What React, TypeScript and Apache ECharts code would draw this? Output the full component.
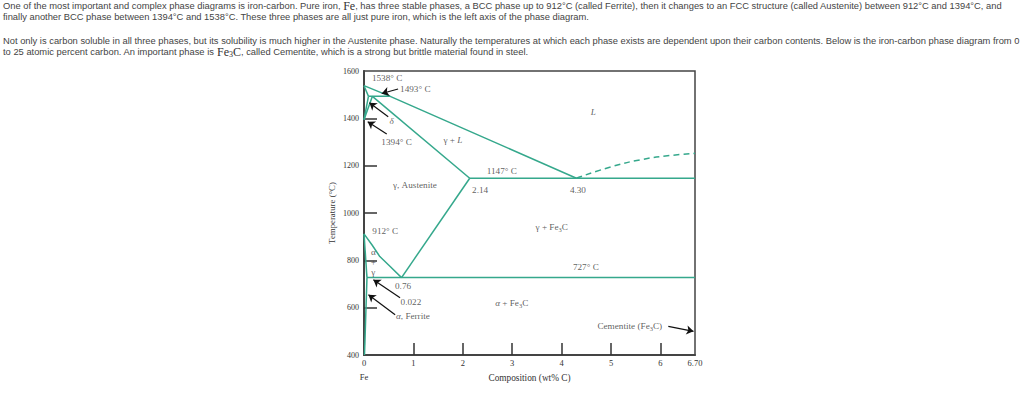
import React, { useEffect, useRef } from "react";
import * as echarts from "echarts";

// ---------- paragraph text ----------
const paragraphLines = [
  "One of the most important and complex phase diagrams is iron-carbon. Pure iron, {m|Fe}, has three stable phases, a BCC phase up to 912°C (called Ferrite), then it changes to an FCC structure (called Austenite) between 912°C and 1394°C, and",
  "finally another BCC phase between 1394°C and 1538°C. These three phases are all just pure iron, which is the left axis of the phase diagram.",
  "Not only is carbon soluble in all three phases, but its solubility is much higher in the Austenite phase. Naturally the temperatures at which each phase exists are dependent upon their carbon contents. Below is the iron-carbon phase diagram from 0",
  "to 25 atomic percent carbon. An important phase is {m|Fe}{ms|3}{m|C}, called Cementite, which is a strong but brittle material found in steel.",
];
const paragraphY = [6, 17, 41, 52];

// ---------- axes ----------
const xLabelValues = [0, 1, 2, 3, 4, 5, 6, 6.7];
const xTickValues = [1, 2, 3, 4, 5, 6];
const yTickValues = [600, 800, 1000, 1200, 1400];

// ---------- phase boundaries (wt% C, °C) ----------
const liquidus = [[0, 1538], [0.53, 1493], [4.3, 1147]];
const liquidusExtension = [[4.3, 1147], [5.0, 1195], [5.6, 1225], [6.2, 1243], [6.7, 1252]];
const deltaSolidus = [[0, 1538], [0.09, 1493]];
const deltaBoundary = [[0.09, 1493], [0, 1394]];
const peritecticLine = [[0.09, 1493], [0.53, 1493]];
const gammaDeltaBoundary = [[0, 1394], [0.17, 1493]];
const gammaSolidus = [[0.17, 1493], [2.14, 1147]];
const eutecticLine = [[2.14, 1147], [6.7, 1147]];
const acmLine = [[2.14, 1147], [0.76, 727]];
const a3Line = [[0, 912], [0.16, 866], [0.32, 816], [0.53, 774], [0.76, 727]];
const alphaGammaBoundary = [[0, 912], [0.06, 727]];
const alphaSolvus = [[0.06, 727], [0.01, 400]];
const eutectoidLine = [[0.06, 727], [6.7, 727]];

const solidBoundaries = [
  liquidus, deltaSolidus, deltaBoundary, peritecticLine, gammaDeltaBoundary,
  gammaSolidus, eutecticLine, acmLine, a3Line, alphaGammaBoundary, alphaSolvus, eutectoidLine,
];

// ---------- annotations ----------
const labelTexts = [
  "1538° C", "1493° C", "{i|δ}", "1394° C", "γ + {i|L}", "{i|L}", "1147° C", "2.14", "4.30",
  "γ, Austenite", "γ + Fe{s|3}C", "727° C", "912° C", "α\n+\nγ", "0.76", "0.022", "{i|α}, Ferrite",
  "{i|α} + Fe{s|3}C", "Cementite (Fe{s|3}C)",
];
const labelAnchors = [
  [0.16, 1570], [0.73, 1524], [0.56, 1389], [0.66, 1302], [1.8, 1309], [4.64, 1428], [2.79, 1178],
  [2.35, 1098], [4.33, 1098], [1.03, 1119], [3.8, 940], [4.49, 770], [0.43, 925], [0.19, 794],
  [0.79, 690], [0.95, 622], [0.99, 563], [2.99, 620], [5.38, 524],
];
const labelAligns = [
  "left", "left", "center", "center", "center", "center", "center", "center", "center",
  "center", "center", "center", "center", "center", "center", "center", "center", "center", "center",
];

const arrowStarts = [[0.69, 1524], [0.49, 1407], [0.46, 1334], [0.73, 642], [0.63, 570], [6.16, 521]];
const arrowEnds = [[0.36, 1505], [0.11, 1466], [0.075, 1386], [0.19, 718], [0.09, 655], [6.67, 500]];
const arrowBends = [0, -0.15, -0.15, -0.1, -0.1, 0];

const TEAL = "#35a88c";
const INK = "#333";
const SERIF = '"Liberation Serif", "Times New Roman", serif';
const SANS = '"Liberation Sans", Arial, sans-serif';
const LABEL_SIZE = 9.2;

const richSerif = {
  i: { fontStyle: "italic", fontFamily: SERIF, fontSize: LABEL_SIZE, color: INK, lineHeight: 12 },
  s: { fontFamily: SERIF, fontSize: 6.5, color: INK, lineHeight: 12, verticalAlign: "bottom" },
};

export default function App() {
  const ref = useRef<HTMLDivElement>(null);

  useEffect(() => {
    if (!ref.current) return;
    const chart = echarts.init(ref.current, undefined, { renderer: "svg" });

    const lineSeries = solidBoundaries.map((d) => ({
      type: "line",
      data: d,
      showSymbol: false,
      symbol: "none",
      silent: true,
      lineStyle: { color: TEAL, width: 1.5 },
      z: 3,
    }));

    const option: any = {
      animation: false,
      grid: {
        left: 364,
        right: 329,
        top: 71,
        bottom: 39,
        show: true,
        borderColor: "#444",
        borderWidth: 1.5,
        backgroundColor: "transparent",
      },
      xAxis: {
        type: "value",
        min: 0,
        max: 6.7,
        interval: 1,
        name: "Composition (wt% C)",
        nameLocation: "middle",
        nameGap: 18,
        nameMoveOverlap: false,
        nameTextStyle: { fontFamily: SERIF, fontSize: 9.3, color: INK },
        splitLine: { show: false },
        axisLine: { show: true, lineStyle: { color: "#444", width: 2 } },
        axisTick: {
          show: true,
          inside: true,
          length: 12,
          customValues: xTickValues,
          lineStyle: { color: "#333", width: 1.5 },
        },
        axisLabel: {
          customValues: xLabelValues,
          margin: 1,
          fontFamily: SERIF,
          fontSize: 8.5,
          color: INK,
          formatter: (v: number) =>
            v === 0 ? "{n|0}\n{fe|Fe}" : v === 6.7 ? "{n|6.70}" : "{n|" + String(v) + "}",
          rich: {
            n: { fontFamily: SERIF, fontSize: 8.5, color: INK, lineHeight: 14 },
            fe: { fontFamily: SERIF, fontSize: 8.5, color: INK, lineHeight: 14 },
          },
        },
      },
      yAxis: {
        type: "value",
        min: 400,
        max: 1600,
        interval: 200,
        name: "Temperature (°C)",
        nameLocation: "middle",
        nameGap: 28,
        nameMoveOverlap: false,
        nameTextStyle: { fontFamily: SERIF, fontSize: 8.8, color: INK },
        splitLine: { show: false },
        axisLine: { show: true, lineStyle: { color: "#444", width: 2 } },
        axisTick: {
          show: true,
          inside: true,
          length: 13,
          customValues: yTickValues,
          lineStyle: { color: "#333", width: 1.5 },
        },
        axisLabel: {
          margin: 5,
          fontFamily: SERIF,
          fontSize: 8,
          color: INK,
          formatter: (v: number) => String(v),
        },
      },
      series: [
        ...lineSeries,
        {
          type: "line",
          data: liquidusExtension,
          showSymbol: false,
          symbol: "none",
          smooth: true,
          silent: true,
          lineStyle: { color: TEAL, width: 1.5, type: [6, 4] },
          z: 3,
        },
        {
          type: "scatter",
          symbolSize: 0,
          silent: true,
          z: 5,
          data: labelTexts.map((t, i) => ({
            value: labelAnchors[i],
            label: {
              show: true,
              position: [0, 0],
              align: labelAligns[i],
              verticalAlign: "middle",
              formatter: t,
              fontFamily: SERIF,
              fontSize: LABEL_SIZE,
              lineHeight: t.includes("\n") ? 10 : 12,
              color: INK,
              rich: richSerif,
            },
          })),
          markLine: {
            silent: true,
            symbol: ["none", "arrow"],
            symbolSize: 7,
            label: { show: false },
            lineStyle: { color: "#111", width: 1.2, type: "solid" },
            data: arrowStarts.map((s, i) => [
              { coord: s, lineStyle: { curveness: arrowBends[i] } },
              { coord: arrowEnds[i] },
            ]),
          },
        },
      ],
      graphic: paragraphLines.map((t, i) => ({
        type: "text",
        x: 3,
        y: paragraphY[i],
        silent: true,
        style: {
          text: t,
          fontFamily: SANS,
          fontSize: 9.35,
          fill: "#444",
          verticalAlign: "middle",
          rich: {
            m: { fontFamily: SERIF, fontSize: 12, fill: "#333" },
            ms: { fontFamily: SERIF, fontSize: 8, fill: "#333", verticalAlign: "bottom", padding: [5, 0, 0, 0] },
          },
        },
      })),
    };

    chart.setOption(option);
    return () => chart.dispose();
  }, []);

  return (
    <div
      ref={ref}
      style={{ position: "absolute", left: 0, top: 0, width: 1024, height: 394, background: "#fff" }}
    />
  );
}
